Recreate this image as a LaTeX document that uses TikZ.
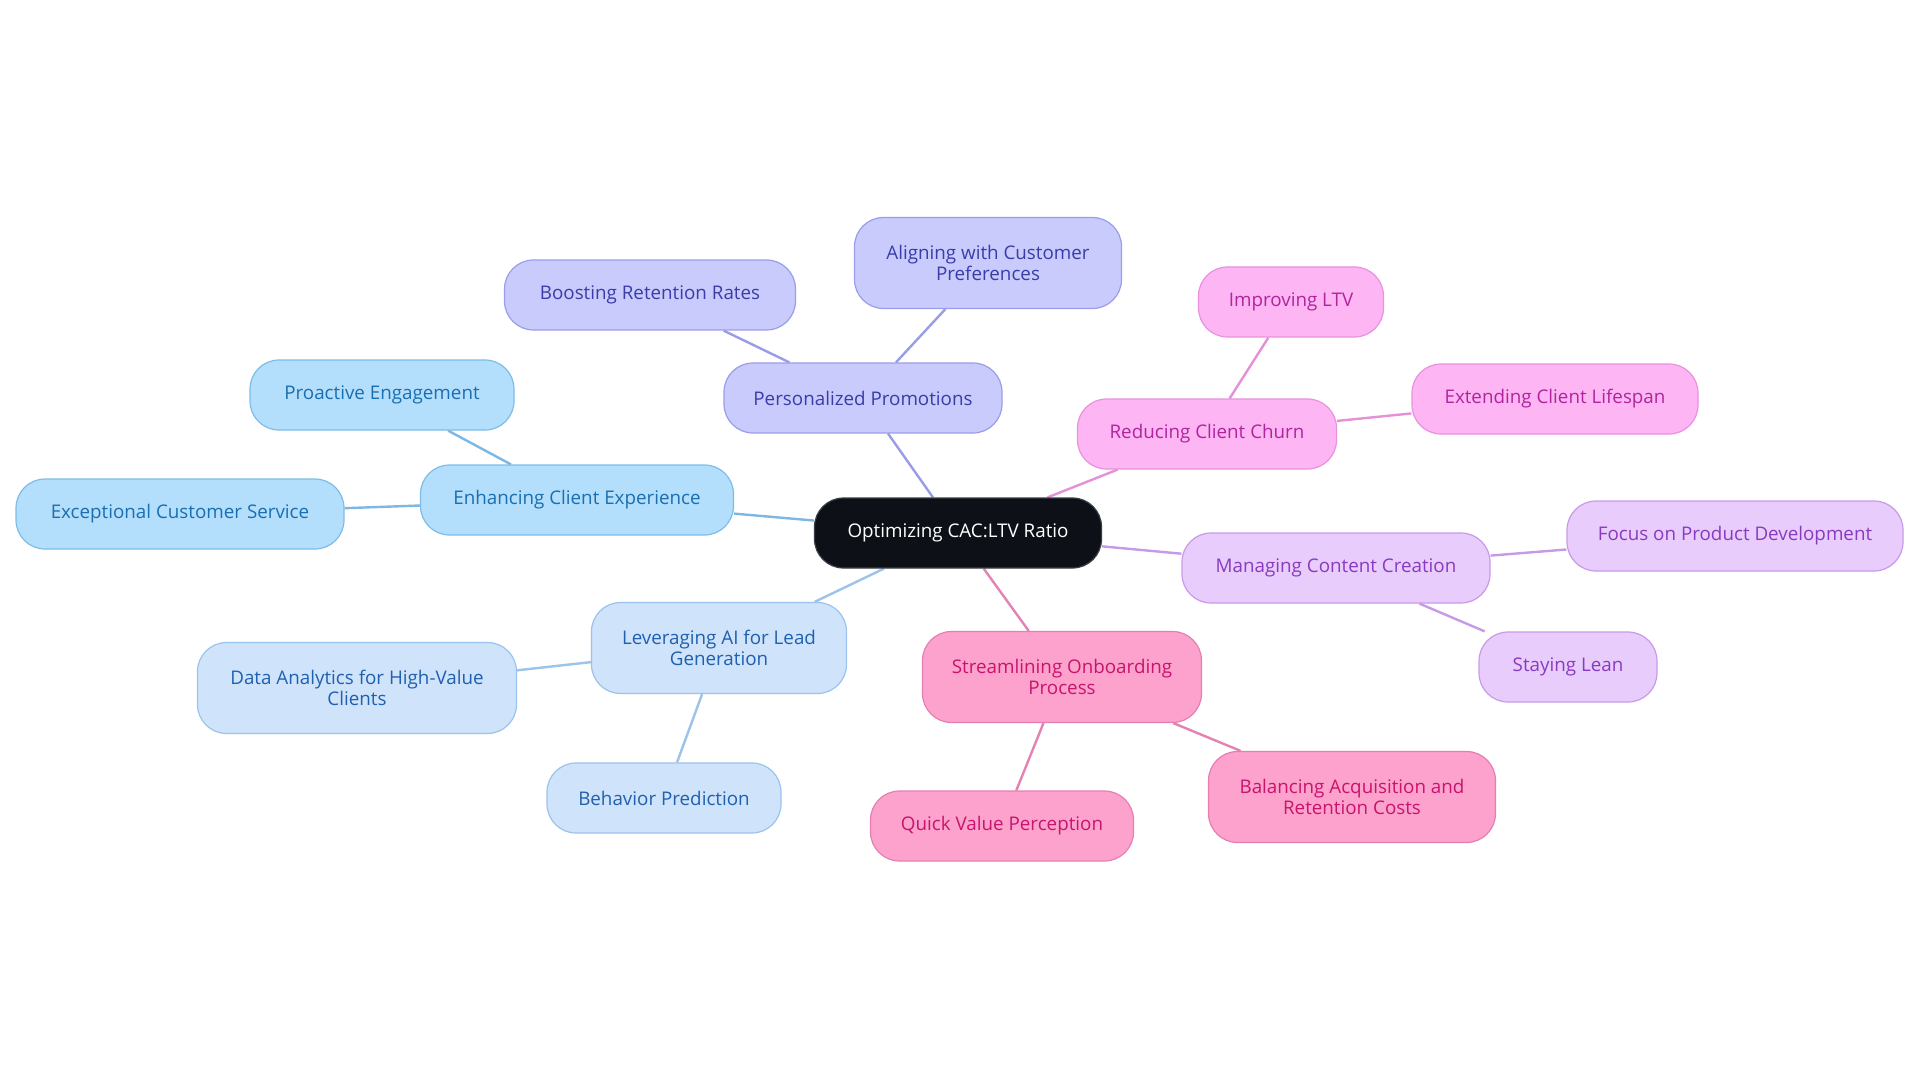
\documentclass[tikz,border=0pt]{standalone}
\usepackage{fontspec}
\setmainfont{Open Sans}
\usetikzlibrary{backgrounds}
\definecolor{cdark}{HTML}{0D1117}
\definecolor{cdarkb}{HTML}{3A3F47}
\definecolor{bfill}{HTML}{B3DEFC}\definecolor{bdraw}{HTML}{7DBDE8}\definecolor{btext}{HTML}{1A6FB0}\definecolor{bline}{HTML}{7DB8E5}
\definecolor{lfill}{HTML}{CFE3FA}\definecolor{ldraw}{HTML}{9BC3ED}\definecolor{ltext}{HTML}{2060B0}\definecolor{lline}{HTML}{9CC3EA}
\definecolor{vfill}{HTML}{C8CBFC}\definecolor{vdraw}{HTML}{9A9EE8}\definecolor{vtext}{HTML}{3A3DA8}\definecolor{vline}{HTML}{9A9CE6}
\definecolor{pfill}{HTML}{FDB6F3}\definecolor{pdraw}{HTML}{EA90DF}\definecolor{ptext}{HTML}{B0249E}\definecolor{pline}{HTML}{E690D8}
\definecolor{mfill}{HTML}{E8CCFB}\definecolor{mdraw}{HTML}{C99AEA}\definecolor{mtext}{HTML}{8A3AC0}\definecolor{mline}{HTML}{C69AE6}
\definecolor{hfill}{HTML}{FDA2CC}\definecolor{hdraw}{HTML}{E57FB1}\definecolor{htext}{HTML}{C8146E}\definecolor{hline}{HTML}{E283B4}
\begin{document}
\begin{tikzpicture}[x=1pt,y=-1pt,
  box/.style={rounded corners=29pt, line width=1.2pt, align=center, inner sep=0pt,
    minimum height=70pt, font=\fontsize{18.8}{21}\selectfont},
  tall/.style={minimum height=91pt},
  root/.style={box, fill=cdark, draw=cdarkb, text=white},
  bb/.style={box, fill=bfill, draw=bdraw, text=btext},
  lb/.style={box, fill=lfill, draw=ldraw, text=ltext},
  vb/.style={box, fill=vfill, draw=vdraw, text=vtext},
  pb/.style={box, fill=pfill, draw=pdraw, text=ptext},
  mb/.style={box, fill=mfill, draw=mdraw, text=mtext},
  hb/.style={box, fill=hfill, draw=hdraw, text=htext},
  edge/.style={line width=2.4pt}
]
\useasboundingbox (0,0) rectangle (1920,1083);
\node[root, minimum width=287pt] (c) at (958,533) {Optimizing CAC:LTV Ratio};
% blue
\node[bb, minimum width=313pt] (ece) at (577,500) {Enhancing Client Experience};
\node[bb, minimum width=264pt] (pe) at (382,395) {Proactive Engagement};
\node[bb, minimum width=328pt] (ecs) at (180,514) {Exceptional Customer Service};
% lavender
\node[vb, minimum width=278pt] (pp) at (863,398) {Personalized Promotions};
\node[vb, minimum width=291pt] (brr) at (650,295) {Boosting Retention Rates};
\node[vb, tall, minimum width=267pt] (acp) at (988,263) {Aligning with Customer\\Preferences};
% pink
\node[pb, minimum width=259pt] (rcc) at (1207,434) {Reducing Client Churn};
\node[pb, minimum width=185pt] (il) at (1291,302) {Improving LTV};
\node[pb, minimum width=286pt] (ecl) at (1555,399) {Extending Client Lifespan};
% purple
\node[mb, minimum width=308pt] (mcc) at (1336,568) {Managing Content Creation};
\node[mb, minimum width=336pt] (fpd) at (1735,536) {Focus on Product Development};
\node[mb, minimum width=178pt] (sl) at (1568,667) {Staying Lean};
% hot pink
\node[hb, tall, minimum width=279pt] (sop) at (1062,677) {Streamlining Onboarding\\Process};
\node[hb, minimum width=263pt] (qvp) at (1002,826) {Quick Value Perception};
\node[hb, tall, minimum width=287pt] (bar) at (1352,797) {Balancing Acquisition and\\Retention Costs};
% light blue
\node[lb, tall, minimum width=255pt] (ai) at (719,648) {Leveraging AI for Lead\\Generation};
\node[lb, tall, minimum width=319pt] (da) at (357,688) {Data Analytics for High-Value\\Clients};
\node[lb, minimum width=234pt] (bp) at (664,798) {Behavior Prediction};
\begin{scope}[on background layer]
\fill[white] (0,0) rectangle (1920,1083);
\draw[edge, bline] (c) -- (ece);
\draw[edge, bline] (ece) -- (pe);
\draw[edge, bline] (ece) -- (ecs);
\draw[edge, vline] (c) -- (pp);
\draw[edge, vline] (pp) -- (brr);
\draw[edge, vline] (pp) -- (acp);
\draw[edge, pline] (c) -- (rcc);
\draw[edge, pline] (rcc) -- (il);
\draw[edge, pline] (rcc) -- (ecl);
\draw[edge, mline] (c) -- (mcc);
\draw[edge, mline] (mcc) -- (fpd);
\draw[edge, mline] (mcc) -- (sl);
\draw[edge, hline] (c) -- (sop);
\draw[edge, hline] (sop) -- (qvp);
\draw[edge, hline] (sop) -- (bar);
\draw[edge, lline] (c) -- (ai);
\draw[edge, lline] (ai) -- (da);
\draw[edge, lline] (ai) -- (bp);
\end{scope}
\end{tikzpicture}
\end{document}
